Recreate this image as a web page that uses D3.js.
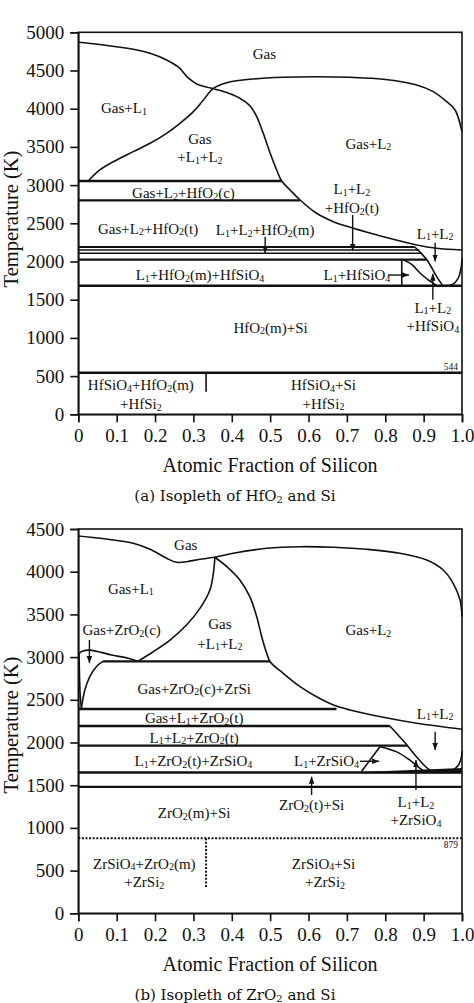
<!DOCTYPE html>
<html><head><meta charset="utf-8">
<script src="https://cdn.jsdelivr.net/npm/d3@7"></script>
<style>
body{margin:0;background:#fff;}
svg{display:block;font-family:"Liberation Serif","Times New Roman",serif;}
</style></head><body>
<svg id="c" width="474" height="1003"></svg>
<script>
// ---------- shared axis data ----------
const xTickValues = [0,0.1,0.2,0.3,0.4,0.5,0.6,0.7,0.8,0.9,1.0];
const xTickLabels = ["0","0.1","0.2","0.3","0.4","0.5","0.6","0.7","0.8","0.9","1.0"];
const yTicksA = [0,500,1000,1500,2000,2500,3000,3500,4000,4500,5000];
const yTicksB = [0,500,1000,1500,2000,2500,3000,3500,4000,4500];
const xTitle = "Atomic Fraction of Silicon";
const yTitle = "Temperature (K)";

// ---------- panel (a) HfO2 - Si ----------
const aGasL1 = [[0,4869],[0.056,4840],[0.143,4778],[0.187,4725],[0.230,4638],[0.262,4540],[0.285,4410],[0.310,4320],[0.345,4270],[0.385,4215],[0.420,4140],[0.447,4040],[0.465,3896],[0.482,3678],[0.500,3417],[0.517,3198],[0.530,3054],[0.552,2936],[0.578,2805],[0.621,2631],[0.665,2521],[0.717,2435],[0.795,2325],[0.882,2216],[0.934,2173],[1.0,2151]];
const aGasL2 = [[0.026,3054],[0.056,3198],[0.1,3329],[0.143,3438],[0.187,3547],[0.230,3678],[0.265,3809],[0.300,3961],[0.326,4114],[0.352,4267],[0.387,4341],[0.447,4385],[0.534,4411],[0.621,4419],[0.708,4411],[0.795,4385],[0.882,4311],[0.925,4223],[0.960,4092],[0.982,3983],[1.0,3699]];
const aOuter = [[0.877,2190],[0.893,2110],[0.908,2025],[0.922,1910],[0.934,1801],[0.950,1683]];
const aArc = [[0.845,2025],[0.868,1965],[0.891,1846],[0.912,1760],[0.935,1683]];
const aRightU = [[0.955,1683],[0.975,1700],[0.99,1780],[0.997,1900],[1.0,2040]];
const aHLines = [[3054,0,0.530],[2800,0,0.578],[2190,0,0.877],[2150,0,0.889],[2107,0,0.896],[2025,0,0.908],[1683,0,1.0],[544,0,1.0]];
const aHWidths = [2.4,2.4,2.2,1.5,1.5,2.2,2.4,2.4];
const aVLines = [[0.843,2025,1683],[0.333,544,296]];
const aLabels = [
  ["Gas",0.485,4725],["Gas+L_1",0.119,4006],["Gas",0.317,3613],["+L_1+L_2",0.317,3372],
  ["Gas+L_2",0.756,3547],["Gas+L_2+HfO_2(c)",0.274,2901],["Gas+L_2+HfO_2(t)",0.182,2435],
  ["L_1+L_2+HfO_2(m)",0.487,2412],["L_1+L_2",0.713,2949],["+HfO_2(t)",0.713,2700],
  ["L_1+L_2",0.930,2369],["L_1+HfO_2(m)+HfSiO_4",0.317,1823],["L_1+HfSiO_4",0.726,1823],
  ["HfO_2(m)+Si",0.501,1139],["L_1+L_2",0.924,1401],["+HfSiO_4",0.924,1156],
  ["HfSiO_4+HfO_2(m)",0.163,384],["+HfSi_2",0.163,135],["HfSiO_4+Si",0.639,384],["+HfSi_2",0.639,144]
];
const aArrows = [[0.487,2325,0.487,2110],[0.715,2609,0.715,2140],[0.930,2245,0.930,2000],[0.807,1823,0.862,1823],[0.924,1500,0.924,1840]];
const aNote = ["544",0.971,623];

// ---------- panel (b) ZrO2 - Si ----------
const bTopLeft = [[0,4418],[0.056,4391],[0.143,4332],[0.187,4262],[0.230,4157],[0.256,4110],[0.282,4117],[0.317,4145],[0.356,4169]];
const bTopRight = [[0.356,4169],[0.404,4216],[0.491,4274],[0.578,4293],[0.665,4286],[0.752,4262],[0.838,4216],[0.908,4137],[0.951,4020],[0.977,3864],[0.995,3669],[1.0,3473]];
const bGasL1 = [[0.356,4169],[0.352,3981],[0.343,3786],[0.317,3571],[0.282,3376],[0.239,3200],[0.195,3063],[0.155,2950]];
const bGasL2 = [[0.356,4169],[0.387,4059],[0.421,3903],[0.447,3708],[0.465,3473],[0.478,3239],[0.491,3045],[0.5,2946],[0.534,2810],[0.578,2654],[0.621,2536],[0.665,2439],[0.708,2381],[0.795,2295],[0.882,2225],[1.0,2155]];
const bDome = [[0.002,3045],[0.012,3072],[0.03,3082],[0.06,3055],[0.086,3025],[0.13,2986],[0.155,2950]];
const bLoopRight = [[0.008,2400],[0.017,2615],[0.03,2771],[0.047,2888],[0.064,2950]];
const bLoopLeft = [[0.002,3045],[0.003,2800],[0.005,2550],[0.008,2400]];
const bOuter = [[0.812,2193],[0.835,2080],[0.858,1963],[0.878,1850],[0.900,1740],[0.920,1660]];
const bArcLeft = [[0.738,1660],[0.786,1950]];
const bArcRight = [[0.786,1950],[0.830,1890],[0.865,1790],[0.890,1700],[0.902,1660]];
const bRightU = [[0.975,1670],[0.99,1730],[0.998,1820],[1.0,1900]];
const bWedge = [[0.738,1655],[1.0,1700],[1.0,1640],[0.738,1640]];
const bHLines = [[2950,0.064,0.5],[2392,0,0.673],[2193,0,0.812],[1963,0,0.858],[1648,0,1.0],[1480,0,1.0]];
const bHWidths = [2.4,2.4,2.4,2.4,2.6,2.4];
const bDotH = [[879,0,1.0]];
const bDotV = [[0.333,879,300]];
const bLabels = [
  ["Gas",0.280,4313],["Gas+L_1",0.137,3806],["Gas+ZrO_2(c)",0.113,3317],["Gas",0.369,3396],["+L_1+L_2",0.369,3162],
  ["Gas+L_2",0.756,3317],["Gas+ZrO_2(c)+ZrSi",0.302,2635],["Gas+L_1+ZrO_2(t)",0.302,2285],
  ["L_1+L_2+ZrO_2(t)",0.302,2060],["L_1+ZrO_2(t)+ZrSiO_4",0.300,1787],["L_1+ZrSiO_4",0.647,1787],
  ["L_1+L_2",0.930,2342],["ZrO_2(t)+Si",0.608,1268],["L_1+L_2",0.880,1307],["+ZrSiO_4",0.880,1093],
  ["ZrO_2(m)+Si",0.302,1178],["ZrSiO_4+ZrO_2(m)",0.172,586],["+ZrSi_2",0.172,370],
  ["ZrSiO_4+Si",0.639,586],["+ZrSi_2",0.643,370]
];
const bArrows = [[0.029,3200,0.029,2930],[0.734,1780,0.784,1780],[0.930,2127,0.930,1912],[0.608,1385,0.608,1600],[0.880,1444,0.880,1795]];
const bNote = ["879",0.971,800];

// ---------- drawing ----------
const FONT = "'Liberation Serif','Times New Roman',serif";
const svg = d3.select("#c");
const defs = svg.append("defs");
defs.append("marker").attr("id","ah").attr("viewBox","0 0 10 10").attr("refX",10).attr("refY",5)
  .attr("markerWidth",7).attr("markerHeight",7).attr("markerUnits","userSpaceOnUse").attr("orient","auto")
  .append("path").attr("d","M0,1 L10,5 L0,9 Z").attr("fill","#111");

function rich(sel, str, size, subSize){
  const parts = str.split(/_(\d)/);
  let shift = 0;
  parts.forEach((p,i)=>{
    if(p==="") return;
    if(i%2===1){
      sel.append("tspan").attr("font-size",subSize).attr("dy",1.8).text(p);
      shift = 1.8;
    } else {
      const t = sel.append("tspan").attr("font-size",size).text(p);
      if(shift){ t.attr("dy",-shift); shift = 0; }
    }
  });
}

function panel(cfg){
  const x = d3.scaleLinear([0,1],[78.3,462]);
  const y = d3.scaleLinear([0,cfg.yMax],[cfg.bottom,cfg.top]);
  const g = svg.append("g");
  const line = d3.line().x(d=>x(d[0])).y(d=>y(d[1])).curve(d3.curveCatmullRom.alpha(0.5));
  const lin = d3.line().x(d=>x(d[0])).y(d=>y(d[1]));

  cfg.curves.forEach(c=>g.append("path").attr("d",line(c)).attr("fill","none").attr("stroke","#111").attr("stroke-width",1.6));
  (cfg.straight||[]).forEach(c=>g.append("path").attr("d",lin(c)).attr("fill","none").attr("stroke","#111").attr("stroke-width",1.6));
  (cfg.fills||[]).forEach(c=>g.append("path").attr("d",lin(c)+"Z").attr("fill","#111"));
  cfg.hlines.forEach((h,i)=>g.append("line").attr("x1",x(h[1])).attr("x2",x(h[2])).attr("y1",y(h[0])).attr("y2",y(h[0]))
     .attr("stroke","#111").attr("stroke-width",cfg.hw[i]));
  (cfg.vlines||[]).forEach(v=>g.append("line").attr("x1",x(v[0])).attr("x2",x(v[0])).attr("y1",y(v[1])).attr("y2",y(v[2]))
     .attr("stroke","#111").attr("stroke-width",1.6));
  (cfg.dotH||[]).forEach(h=>g.append("line").attr("x1",x(h[1])).attr("x2",x(h[2])).attr("y1",y(h[0])).attr("y2",y(h[0]))
     .attr("stroke","#111").attr("stroke-width",2).attr("stroke-dasharray","2,1.6"));
  (cfg.dotV||[]).forEach(v=>g.append("line").attr("x1",x(v[0])).attr("x2",x(v[0])).attr("y1",y(v[1])).attr("y2",y(v[2]))
     .attr("stroke","#111").attr("stroke-width",2).attr("stroke-dasharray","2,1.6"));

  g.append("rect").attr("x",x(0)).attr("y",y(cfg.yMax)).attr("width",x(1)-x(0)).attr("height",y(0)-y(cfg.yMax))
    .attr("fill","none").attr("stroke","#111").attr("stroke-width",1.6);

  const ax = g.append("g").attr("transform",`translate(0,${y(0)})`)
    .call(d3.axisBottom(x).tickValues(xTickValues).tickFormat((d,i)=>xTickLabels[i]).tickSize(8).tickPadding(6));
  const ay = g.append("g").attr("transform",`translate(${x(0)},0)`)
    .call(d3.axisLeft(y).tickValues(cfg.yTicks).tickFormat(d=>String(d)).tickSize(8).tickPadding(6));
  [ax,ay].forEach(a=>{
    a.attr("font-family",FONT).attr("font-size",19);
    a.select(".domain").attr("stroke","#111").attr("stroke-width",1.6);
    a.selectAll(".tick line").attr("stroke","#111").attr("stroke-width",1.6);
    a.selectAll(".tick text").attr("font-size",19).attr("font-family",FONT).attr("fill","#111");
  });

  g.append("text").attr("x",270).attr("y",y(0)+58).attr("text-anchor","middle").attr("font-size",20)
    .attr("font-family",FONT).attr("fill","#111").text(xTitle);
  g.append("text").attr("transform",`translate(18,${cfg.yTitleC}) rotate(-90)`).attr("text-anchor","middle")
    .attr("font-size",20.5).attr("font-family",FONT).attr("fill","#111").text(yTitle);
  const cap = g.append("text").attr("x",235).attr("y",y(0)+87).attr("text-anchor","middle").attr("fill","#111")
    .attr("font-size",15).attr("font-family","'DejaVu Serif','Liberation Serif',serif");
  rich(cap, cfg.caption, 15, 10);

  cfg.labels.forEach(l=>{
    const t = g.append("text").attr("x",x(l[1])).attr("y",y(l[2])).attr("dy","0.35em").attr("text-anchor","middle")
      .attr("font-size",15).attr("font-family",FONT).attr("fill","#111");
    rich(t,l[0],15,10);
  });
  cfg.arrows.forEach(a=>g.append("line").attr("x1",x(a[0])).attr("y1",y(a[1])).attr("x2",x(a[2])).attr("y2",y(a[3]))
    .attr("stroke","#111").attr("stroke-width",1.4).attr("marker-end","url(#ah)"));
  g.append("text").attr("x",x(cfg.note[1])).attr("y",y(cfg.note[2])).attr("dy","0.35em").attr("text-anchor","middle")
    .attr("font-size",9.5).attr("font-family",FONT).attr("fill","#111").text(cfg.note[0]);
}

panel({yMax:5000,top:32.3,bottom:414.3,yTicks:yTicksA,yTitleC:219,caption:"(a) Isopleth of HfO_2 and Si",
  curves:[aGasL1,aGasL2,aOuter,aArc,aRightU],hlines:aHLines,hw:aHWidths,vlines:aVLines,labels:aLabels,arrows:aArrows,note:aNote});
panel({yMax:4500,top:529,bottom:913.3,yTicks:yTicksB,yTitleC:725,caption:"(b) Isopleth of ZrO_2 and Si",
  curves:[bTopLeft,bTopRight,bGasL1,bGasL2,bDome,bLoopRight,bLoopLeft,bOuter,bArcRight,bRightU],straight:[bArcLeft],fills:[bWedge],
  hlines:bHLines,hw:bHWidths,dotH:bDotH,dotV:bDotV,labels:bLabels,arrows:bArrows,note:bNote});
</script>
</body></html>
